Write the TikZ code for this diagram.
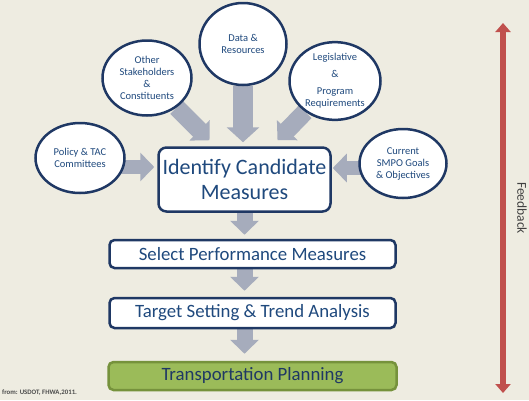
\documentclass[tikz,border=0pt]{standalone}
\usepackage{fontspec}
\setmainfont{Carlito}
\usetikzlibrary{arrows.meta,shapes,calc}
\definecolor{slidebg}{RGB}{238,236,225}
\definecolor{navyline}{RGB}{31,56,100}
\definecolor{navytext}{RGB}{31,73,125}
\definecolor{grayarrow}{RGB}{166,172,188}
\definecolor{planfill}{RGB}{155,187,89}
\definecolor{planline}{RGB}{118,146,60}
\definecolor{fbred}{RGB}{192,80,77}
\pgfdeclarelayer{background}
\pgfsetlayers{background,main}
\tikzstyle{bubble}=[ellipse,draw=navyline,fill=white,line width=2.5pt,inner sep=0pt,align=center,text=navytext,font=\fontsize{10.5}{12}\selectfont]
\tikzstyle{stepbox}=[rectangle,rounded corners=5pt,draw=navyline,fill=white,line width=2.5pt,inner sep=0pt,align=center,text=navytext,minimum width=286pt,minimum height=28pt,font=\fontsize{18.8}{21}\selectfont]
\tikzstyle{garrow}=[draw=grayarrow,line width=16pt,-{Triangle[width=28pt,length=14pt]}]
\tikzstyle{fbarrow}=[draw=fbred,line width=5.5pt,{Triangle[width=15pt,length=9pt]}-{Triangle[width=15pt,length=9pt]}]

\begin{document}
\begin{tikzpicture}[x=1pt,y=-1pt]

    \begin{pgfonlayer}{background}
        \fill[slidebg] (0,0) rectangle (529,400);
    \end{pgfonlayer}
    \useasboundingbox (0,0) rectangle (529,400);

    % inputs round the first step
    \foreach \pos/ \name/ \w/ \h/ \txt in {{(80,158)/policy/89/70/{Policy \& TAC\\Committees}},
        {(147,78)/stake/89/75/{Other\\Stakeholders\\\&\\Constituents}},
        {(243,44)/data/87/82/{Data \&\\Resources}},
        {(335,81)/legis/91/70/{Legislative\\[5pt]\&\\[5pt]Program\\Requirements}},
        {(403,163.5)/smpo/87/69/{Current\\SMPO Goals\\\& Objectives}}}
        \node[bubble,minimum width=\w pt,minimum height=\h pt] (\name) at \pos {\txt};

    % the steps
    \node[stepbox,rounded corners=8pt,minimum width=172pt,minimum height=64pt,font=\fontsize{22}{25}\selectfont] (identify) at (244.5,179.5) {Identify Candidate\\Measures};
    \node[stepbox] (select) at (252.5,254) {Select Performance Measures};
    \node[stepbox,minimum height=30pt] (target) at (252.5,313) {Target Setting \& Trend Analysis};
    \node[stepbox,draw=planline,fill=planfill,minimum width=288pt,text=navyline] (plan) at (252.5,376) {Transportation Planning};

    \coordinate (stakeTip) at ($(identify.north)+(-35,-6)$);
    \coordinate (legisTip) at ($(identify.north)+(33,-6)$);
    \coordinate (policyOut) at ([yshift=-9pt]policy.center);
    \coordinate (smpoOut) at ([yshift=-4.5pt]smpo.center);

    % grey arrows behind the shapes
    \begin{pgfonlayer}{background}
        \draw[garrow,line width=14pt,shorten >=3pt] (policyOut) -- (policyOut -| identify.west);
        \draw[garrow,line width=14pt,shorten >=1pt] (smpoOut) -- (smpoOut -| identify.east);
        \draw[garrow,line width=18pt] (stake) -- (stakeTip);
        \draw[garrow,line width=18pt] (legis) -- (legisTip);
        \draw[garrow,line width=20pt,-{Triangle[width=32pt,length=15pt]},shorten >=4pt] (data) -- (data |- identify.north);

        \draw[garrow,shorten >=4pt] (identify.south) -- (identify.south |- select.north);
        \draw[garrow,shorten >=6pt] (identify.south |- select.south) -- (identify.south |- target.north);
        \draw[garrow,shorten >=7pt] (identify.south |- target.south) -- (identify.south |- plan.north);
    \end{pgfonlayer}

    % feedback
    \coordinate (fbTop) at (503,23);
    \coordinate (fbBottom) at (503,393);
    \draw[fbarrow] (fbTop) -- node[xshift=19pt,rotate=-90,text=black!75,font=\fontsize{13.5}{15}\selectfont] (fbLabel) {Feedback} (fbBottom);

    \node[anchor=west,inner sep=0pt,text=black!70,font=\bfseries\fontsize{6.8}{8}\selectfont] (source) at (2,393) {from: USDOT, FHWA,2011.};

\end{tikzpicture}
\end{document}
